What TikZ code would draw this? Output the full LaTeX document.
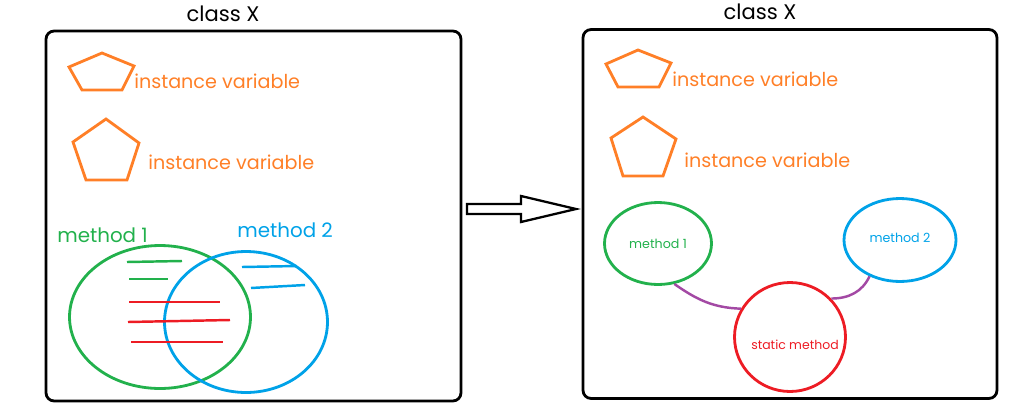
\documentclass[tikz,border=0pt]{standalone}
\usepackage{fontspec}
\setmainfont{Poppins}
\usepackage{tikz}
\usetikzlibrary{shapes.geometric, positioning}
\definecolor{paintOrange}{HTML}{FF7F27}
\definecolor{paintGreen}{HTML}{22B14C}
\definecolor{paintBlue}{HTML}{00A2E8}
\definecolor{paintRed}{HTML}{ED1C24}
\definecolor{paintPurple}{HTML}{A349A4}
\tikzstyle{classbox} = [rectangle, rounded corners=0.16cm, draw=black, line width=1.6pt, inner sep=0pt]
\tikzstyle{classname} = [font=\fontsize{12}{14}\selectfont, text=black, inner sep=0pt]
\tikzstyle{pentagon} = [draw=paintOrange, line width=1.6pt, line join=miter]
\tikzstyle{varname} = [anchor=base west, font=\fontsize{10.9}{13}\selectfont, text=paintOrange, inner sep=0pt]
\tikzstyle{methodbig} = [ellipse, line width=1.6pt, inner sep=0pt]
\tikzstyle{methodsmall} = [ellipse, line width=1.6pt, inner sep=0pt, font=\fontsize{7.2}{9}\selectfont]
\tikzstyle{smallname} = [inner sep=0pt, font=\fontsize{7.1}{9}\selectfont]
\tikzstyle{bigname} = [anchor=base west, font=\fontsize{11.3}{13}\selectfont, inner sep=0pt]
\tikzstyle{codeline} = [line width=1.4pt]
\tikzstyle{link} = [paintPurple, line width=1.4pt]
\tikzstyle{blockarrow} = [draw=black, fill=white, line width=1.3pt]

\begin{document}
\begin{tikzpicture}[x=0.02cm, y=-0.02cm]
	    	\useasboundingbox (0,0) rectangle (1024,406);
	    	
	    	% left class
	    	\node (boxClassLeft) [classbox, minimum width=8.3cm, minimum height=7.4cm] at (253.5,216) {};
	    	\node (txtClassLeft) [classname] at (223,14) {class X};
	    	\draw [pentagon] (102,53) -- (134,66) -- (122,90) -- (82,90) -- (69,67) -- cycle;
	    	\node (txtVarLeftOne) [varname] at (134,88) {instance variable};
	    	\draw [pentagon] (106,119) -- (139,143) -- (127,180) -- (86,180) -- (73,142) -- cycle;
	    	\node (txtVarLeftTwo) [varname] at (148,169) {instance variable};
	    	
	    	\node (ellMethodOneLeft) [methodbig, draw=paintGreen, minimum width=3.62cm, minimum height=2.86cm] at (160,317) {};
	    	\node (ellMethodTwoLeft) [methodbig, draw=paintBlue, minimum width=3.26cm, minimum height=2.82cm] at (246,322) {};
	    	\node (txtMethodOneLeft) [bigname, text=paintGreen] at (57,242) {method 1};
	    	\node (txtMethodTwoLeft) [bigname, text=paintBlue] at (237,237) {method 2};
	    	
	    	\draw [codeline, paintGreen] (127,262) -- (182,261);
	    	\draw [codeline, paintGreen] (129,279) -- (168,279);
	    	\draw [codeline, paintRed] (129,302) -- (220,302);
	    	\draw [codeline, paintRed] (128,322) -- (230,320);
	    	\draw [codeline, paintRed] (131,342) -- (223,342);
	    	\draw [codeline, paintBlue] (242,267) -- (297,266);
	    	\draw [codeline, paintBlue] (251,288) -- (305,285);
	    	
	    	% arrow between the classes
	    	\draw [blockarrow] (467,204) -- (521,204) -- (521,196) -- (576,209) -- (521,222) -- (521,214) -- (467,214) -- cycle;
	    	
	    	% right class
	    	\node (boxClassRight) [classbox, minimum width=8.28cm, minimum height=7.38cm] at (790,214) {};
	    	\node (txtClassRight) [classname] at (760,12) {class X};
	    	\draw [pentagon] (638,50) -- (671,63) -- (659,87) -- (618,87) -- (606,64) -- cycle;
	    	\node (txtVarRightOne) [varname] at (672,86) {instance variable};
	    	\draw [pentagon] (643,117) -- (676,139) -- (663,176) -- (623,176) -- (611,138) -- cycle;
	    	\node (txtVarRightTwo) [varname] at (684,167) {instance variable};
	    	
	    	\node (ellMethodOneRight) [methodsmall, draw=paintGreen, text=paintGreen, minimum width=2.14cm, minimum height=1.64cm] at (658,243.5) {method 1};
	    	\node (ellMethodTwoRight) [methodsmall, draw=paintBlue, text=paintBlue, minimum width=2.24cm, minimum height=1.66cm] at (900,240) {\raisebox{2pt}{method 2}};
	    	\node (circStatic) [methodsmall, draw=paintRed, minimum width=2.22cm, minimum height=2.18cm] at (790,337) {};
	    	\node (txtStatic) [smallname, text=paintRed] at (795,345) {static method};
	    	
	    	\draw [link] (ellMethodOneRight.-68) to[out=-35, in=178] (circStatic.150);
	    	\draw [link] (circStatic.43) to[out=0, in=-115] (ellMethodTwoRight.-130);
	    	\end{tikzpicture}
\end{document}
